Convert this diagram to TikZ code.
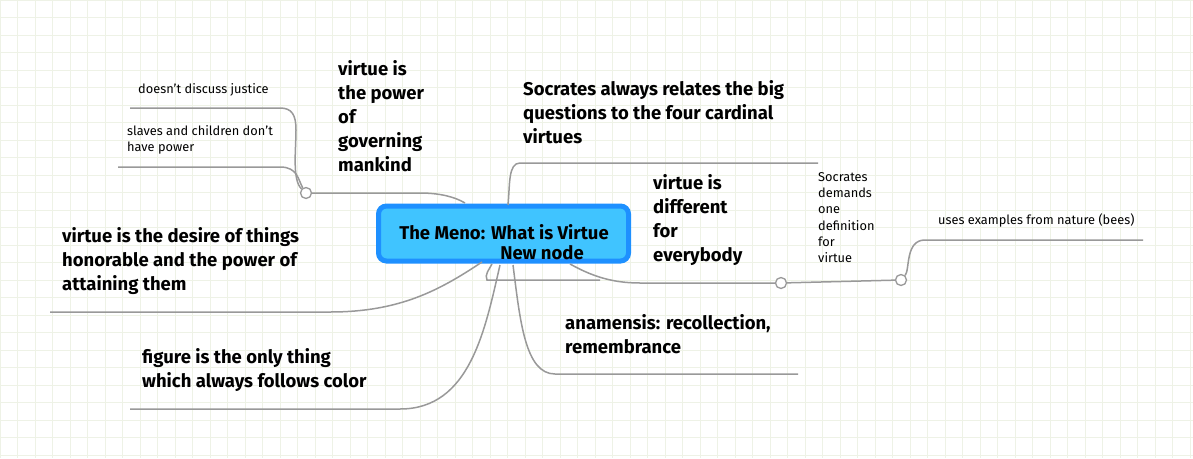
\documentclass[tikz,border=0pt]{standalone}
\usepackage{fontspec}
\setmainfont{Fira Sans}
\definecolor{gridc}{HTML}{EEF2E6}
\definecolor{bord}{HTML}{1E90FF}
\definecolor{fillc}{HTML}{40C4FF}
\definecolor{lnc}{HTML}{999999}
\begin{document}
\begin{tikzpicture}[x=1pt,y=-1pt,
  big/.style={font=\fontsize{18.5}{24}\selectfont\bfseries,align=left,anchor=north west,inner sep=0pt},
  small/.style={font=\fontsize{12.8}{16.3}\selectfont,align=left,anchor=north west,inner sep=0pt},
  conn/.style={draw=lnc,line width=1.5pt},
  knob/.style={circle,draw=lnc,fill=white,line width=1.3pt,minimum size=11pt,inner sep=0pt}]
\useasboundingbox (0,0) rectangle (1193,458);
\fill[white] (0,0) rectangle (1193,458);
\foreach \i in {0,...,68} {\draw[gridc,line width=0.8pt] (\i*17.5,0) -- (\i*17.5,458);}
\foreach \i in {0,...,26} {\draw[gridc,line width=0.8pt] (0,\i*17.5) -- (1193,\i*17.5);}
% center
\node[draw=bord,fill=fillc,line width=5pt,rounded corners=8pt,minimum width=250pt,minimum height=55pt] (c) at (503.5,233.5) {};
\node[font=\fontsize{18.5}{20}\selectfont\bfseries,inner sep=0pt] (t1) at (504,232) {The Meno: What is Virtue};
\node[font=\fontsize{18.5}{20}\selectfont\bfseries,inner sep=0pt] (t2) at (542,253) {New node};
% texts
\node[big] (vp) at (338,60) {virtue is\\the power\\of\\governing\\mankind};
\node[big] (so) at (523,80) {Socrates always relates the big\\questions to the four cardinal\\virtues};
\node[big] (vd) at (653,174) {virtue is\\different\\for\\everybody};
\node[small] (sd) at (818,172) {Socrates\\demands\\one\\definition\\for\\virtue};
\node[small] (ue) at (938,213) {uses examples from nature (bees)};
\node[small] (dj) at (138,83) {doesn't discuss justice};
\node[small] (sc) at (127,125) {slaves and children don't\\have power};
\node[big] (de) at (62,227) {virtue is the desire of things\\honorable and the power of\\attaining them};
\node[big] (fi) at (142,348) {figure is the only thing\\which always follows color};
\node[big] (an) at (565,314) {anamensis: recollection,\\remembrance};
% knobs
\node[knob] (k1) at (306,193) {};
\node[knob] (k2) at (781,283) {};
\node[knob] (k3) at (901,280) {};
\coordinate (e1) at (50,312); \coordinate (e2) at (130,409);
\coordinate (e3) at (818,163); \coordinate (e4) at (798,374);
\coordinate (e5) at (600,280); \coordinate (e6) at (1143,240);
\coordinate (e7) at (130,108); \coordinate (e8) at (118,167);
% connectors
\draw[conn] (e1) -- (330,312) .. controls (400,312) and (440,290) .. (482,262);
\draw[conn] (e2) -- (400,409) .. controls (470,409) and (485,330) .. (500,265);
\draw[conn] (k1) -- (420,193) .. controls (440,193) and (455,197) .. (465,203);
\draw[conn] (k1) .. controls (292,180) and (296,150) .. (296,130) .. controls (296,115) and (292,108) .. (280,108) -- (e7);
\draw[conn] (k1) .. controls (298,180) and (298,167) .. (280,167) -- (e8);
\draw[conn] (e3) -- (520,163) .. controls (508,163) and (510,185) .. (508,205);
\draw[conn] (k2) -- (640,283) .. controls (610,283) and (590,275) .. (570,264);
\draw[conn] (k2) -- (k3);
\draw[conn] (k3) .. controls (910,270) and (905,240) .. (925,240) -- (e6);
\draw[conn] (e5) -- (487,280) .. controls (484,275) and (490,268) .. (492,264);
\draw[conn] (e4) -- (555,374) .. controls (525,374) and (520,320) .. (513,265);
\end{tikzpicture}
\end{document}
